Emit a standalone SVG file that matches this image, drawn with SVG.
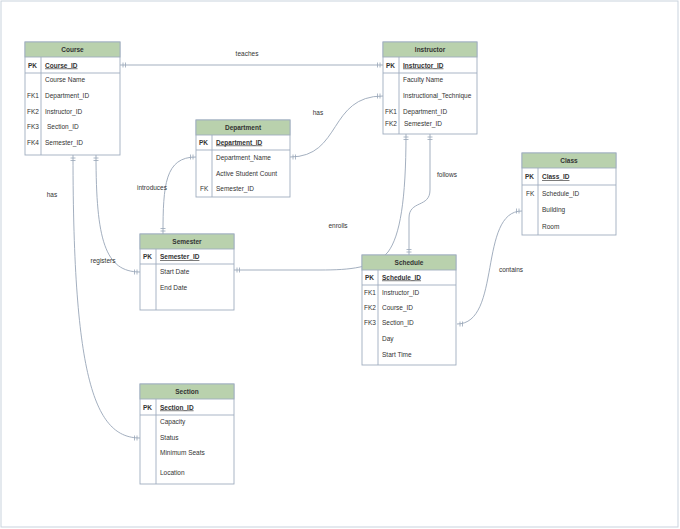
<svg xmlns="http://www.w3.org/2000/svg" width="680" height="529" viewBox="0 0 680 529">
<style>
text{font-family:"Liberation Sans",Arial,sans-serif;font-size:6.5px;fill:#333}
.h{font-weight:bold;text-anchor:middle}
.pk{font-weight:bold;text-decoration:underline}
.k{font-weight:bold}
.box{fill:#fff;stroke:#9fadbf;stroke-width:0.9}
.hd{fill:#b9d1ad;stroke:#9fadbf;stroke-width:0.9}
.ln{stroke:#9fadbf;stroke-width:0.9;fill:none}
.c{fill:none;stroke:#98a6b8;stroke-width:0.9;marker-start:url(#one);marker-end:url(#one)}
.lbl{text-anchor:middle}
</style>
<defs>
<marker id="one" markerUnits="userSpaceOnUse" markerWidth="12" markerHeight="12" viewBox="-10 -6 12 12" refX="0" refY="0" orient="auto-start-reverse">
<path d="M-3,-2.5V2.5M-5.5,-2.5V2.5" stroke="#98a6b8" stroke-width="0.8" fill="none"/>
</marker>
</defs>
<rect x="1" y="1" width="677" height="526" fill="#fff" stroke="#c9d3de" stroke-width="1"/>
<g id="connectors">
<path class="c" d="M120,65 L383,65"/>
<path class="c" d="M290,157 C342,157 328,96 383,96"/>
<path class="c" d="M196,157 C165,157 163,185 163,234"/>
<path class="c" d="M96,155 C96,240 105,272 140,272"/>
<path class="c" d="M73,155 C73,380 95,438 140,438"/>
<path class="c" d="M406,134 C406,200 400,236 388,252 C374,268 350,270 320,270 L234,270"/>
<path class="c" d="M430,134 L430,190 C430,208 409,200 409,218 L409,255"/>
<path class="c" d="M522,211 C478,211 502,324 457,324"/>
<text class="lbl" x="247" y="56">teaches</text>
<text class="lbl" x="318" y="115">has</text>
<text class="lbl" x="152" y="190">introduces</text>
<text class="lbl" x="103" y="263">registers</text>
<text class="lbl" x="52" y="197">has</text>
<text class="lbl" x="338" y="228">enrolls</text>
<text class="lbl" x="447" y="177">follows</text>
<text class="lbl" x="511" y="272">contains</text>
</g>
<g id="course">
<rect class="box" x="25" y="42" width="95" height="113"/>
<rect class="hd" x="25" y="42" width="95" height="15"/>
<path class="ln" d="M25,73H120M41,57V155"/>
<text class="h" x="72.5" y="52">Course</text>
<text class="k" x="28" y="67.5">PK</text>
<text class="pk" x="45" y="67.5">Course_ID</text>
<text x="45" y="82">Course Name</text>
<text x="27" y="98">FK1</text><text x="45" y="98">Department_ID</text>
<text x="27" y="114">FK2</text><text x="45" y="114">Instructor_ID</text>
<text x="27" y="129">FK3</text><text x="47" y="129">Section_ID</text>
<text x="27" y="145">FK4</text><text x="45" y="145">Semester_ID</text>
</g>
<g id="instructor">
<rect class="box" x="383" y="42" width="94" height="92"/>
<rect class="hd" x="383" y="42" width="94" height="15"/>
<path class="ln" d="M383,73H477M399,57V134"/>
<text class="h" x="430" y="52">Instructor</text>
<text class="k" x="386" y="67.5">PK</text>
<text class="pk" x="403" y="67.5">Instructor_ID</text>
<text x="403" y="82">Faculty Name</text>
<text x="403" y="98">Instructional_Technique</text>
<text x="385" y="114">FK1</text><text x="403" y="114">Department_ID</text>
<text x="385" y="126">FK2</text><text x="404" y="126">Semester_ID</text>
</g>
<g id="department">
<rect class="box" x="196" y="120" width="94" height="77"/>
<rect class="hd" x="196" y="120" width="94" height="15"/>
<path class="ln" d="M196,150H290M212,135V197"/>
<text class="h" x="243" y="130">Department</text>
<text class="k" x="199" y="144.5">PK</text>
<text class="pk" x="216" y="144.5">Department_ID</text>
<text x="216" y="160">Department_Name</text>
<text x="216" y="176">Active Student Count</text>
<text x="200" y="191">FK</text><text x="216" y="191">Semester_ID</text>
</g>
<g id="semester">
<rect class="box" x="140" y="234" width="94" height="76"/>
<rect class="hd" x="140" y="234" width="94" height="15"/>
<path class="ln" d="M140,264H234M156,249V310"/>
<text class="h" x="187" y="244">Semester</text>
<text class="k" x="143" y="259">PK</text>
<text class="pk" x="160" y="259">Semester_ID</text>
<text x="160" y="274">Start Date</text>
<text x="160" y="290">End Date</text>
</g>
<g id="schedule">
<rect class="box" x="362" y="255" width="94" height="110"/>
<rect class="hd" x="362" y="255" width="94" height="15"/>
<path class="ln" d="M362,285H456M378,270V365"/>
<text class="h" x="409" y="265">Schedule</text>
<text class="k" x="365" y="279.5">PK</text>
<text class="pk" x="382" y="279.5">Schedule_ID</text>
<text x="364" y="295">FK1</text><text x="382" y="295">Instructor_ID</text>
<text x="364" y="310">FK2</text><text x="382" y="310">Course_ID</text>
<text x="364" y="325">FK3</text><text x="382" y="325">Section_ID</text>
<text x="382" y="341">Day</text>
<text x="382" y="357">Start Time</text>
</g>
<g id="class">
<rect class="box" x="522" y="153" width="94" height="82"/>
<rect class="hd" x="522" y="153" width="94" height="15"/>
<path class="ln" d="M522,185H616M538,168V235"/>
<text class="h" x="569" y="163">Class</text>
<text class="k" x="525" y="179">PK</text>
<text class="pk" x="542" y="179">Class_ID</text>
<text x="526" y="196">FK</text><text x="542" y="196">Schedule_ID</text>
<text x="542" y="212">Building</text>
<text x="542" y="229">Room</text>
</g>
<g id="section">
<rect class="box" x="140" y="384" width="94" height="100"/>
<rect class="hd" x="140" y="384" width="94" height="15"/>
<path class="ln" d="M140,415H234M156,399V484"/>
<text class="h" x="187" y="394">Section</text>
<text class="k" x="143" y="409.5">PK</text>
<text class="pk" x="160" y="409.5">Section_ID</text>
<text x="160" y="424">Capacity</text>
<text x="160" y="440">Status</text>
<text x="160" y="455">Minimum Seats</text>
<text x="160" y="475">Location</text>
</g>
</svg>
